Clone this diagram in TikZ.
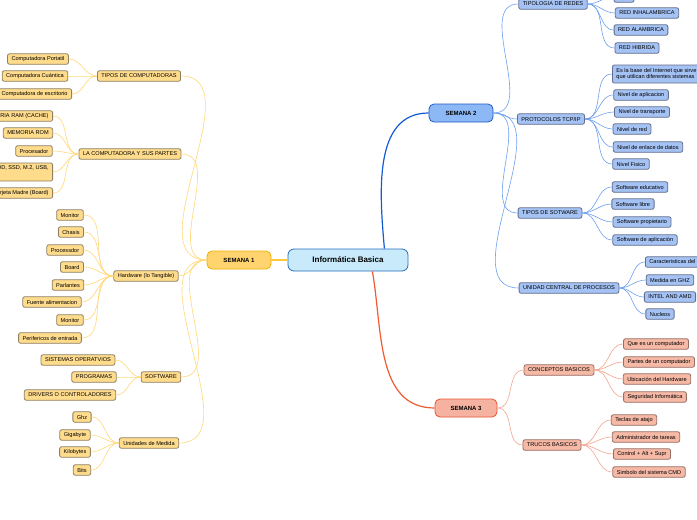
\documentclass[tikz,border=0pt]{standalone}
\usepackage{fontspec}
\setmainfont{Liberation Sans}
\begin{document}
\begin{tikzpicture}[x=1pt,y=-1pt,
 base/.style={draw,rounded corners=2pt,font=\fontsize{5.6}{6.6}\selectfont,inner xsep=4pt,inner ysep=0pt,minimum height=10.5pt,line width=0.8pt},
 ly/.style={base,fill={rgb,255:red,255;green,219;blue,140},draw={rgb,255:red,140;green,128;blue,100}},
 lb/.style={base,fill={rgb,255:red,164;green,194;blue,244},draw={rgb,255:red,100;green,110;blue,140}},
 ls/.style={base,fill={rgb,255:red,246;green,185;blue,165},draw={rgb,255:red,150;green,110;blue,100}},
 cy/.style={draw={rgb,255:red,255;green,217;blue,120},line width=0.6pt},
 cb/.style={draw={rgb,255:red,110;green,160;blue,240},line width=0.6pt},
 cs/.style={draw={rgb,255:red,244;green,165;blue,142},line width=0.6pt},
 lk/.style={out=180,in=0},
 rk/.style={out=0,in=180}]
\clip (0,0) rectangle (697,520);
\fill[white] (0,0) rectangle (697,520);
% root
\node[base,font=\fontsize{8}{9}\selectfont\bfseries,minimum width=120,minimum height=22,rounded corners=6pt,fill={rgb,255:red,200;green,234;blue,250},draw={rgb,255:red,40;green,110;blue,190}] (root) at (348,260) {Informática Basica};
\node[base,font=\fontsize{6}{7}\selectfont\bfseries,minimum width=64,minimum height=18,rounded corners=5pt,fill={rgb,255:red,255;green,212;blue,110},draw={rgb,255:red,240;green,176;blue,0}] (s1) at (239,260) {SEMANA 1};
\node[base,font=\fontsize{6}{7}\selectfont\bfseries,minimum width=64,minimum height=18,rounded corners=5pt,fill={rgb,255:red,140;green,185;blue,245},draw={rgb,255:red,30;green,90;blue,200}] (s2) at (461,113) {SEMANA 2};
\node[base,font=\fontsize{6}{7}\selectfont\bfseries,minimum width=62,minimum height=18,rounded corners=5pt,fill={rgb,255:red,246;green,178;blue,160},draw={rgb,255:red,230;green,85;blue,55}] (s3) at (466,408) {SEMANA 3};
\draw[draw={rgb,255:red,255;green,200;blue,60},line width=1.2pt] (root.west) -- (s1.east);
\draw[draw={rgb,255:red,20;green,90;blue,210},line width=1.2pt] (root.north east) ++(-24,0) to[out=95,in=180] (s2.west);
\draw[draw={rgb,255:red,240;green,90;blue,50},line width=1.2pt] (root.south east) ++(-36,0) to[out=-80,in=180] (s3.west);
% semana 1 children
\node[ly] (tc) at (139,76) {TIPOS DE COMPUTADORAS};
\node[ly] (lc) at (130,154) {LA COMPUTADORA Y SUS PARTES};
\node[ly] (hw) at (146,276) {Hardware (lo Tangible)};
\node[ly] (sw) at (161,377) {SOFTWARE};
\node[ly] (um) at (149,443) {Unidades de Medida};
\foreach \c in {tc,lc,hw,sw,um} \draw[cy] (s1.west) to[lk] (\c.east);
\node[ly] (t1) at (38,59) {Computadora Portatil};
\node[ly] (t2) at (35,76) {Computadora Cuántica};
\node[ly,anchor=east] (t3) at (72,94) {Computadora de escritorio};
\foreach \c in {t1,t2,t3} \draw[cy] (tc.west) to[lk] (\c.east);
\node[ly,anchor=east] (p1) at (53,116) {MEMORIA RAM (CACHE)};
\node[ly] (p2) at (28,133) {MEMORIA ROM};
\node[ly] (p3) at (34,151) {Procesador};
\node[ly,anchor=east,minimum height=18,align=left] (p4) at (53,172) {Discos: HDD, SSD, M.2, USB,\\[2pt]};
\node[ly,anchor=east] (p5) at (53,193) {Tarjeta Madre (Board)};
\foreach \c in {p1,p2,p3,p4,p5} \draw[cy] (lc.west) to[lk] (\c.east);
\node[ly] (h1) at (70,215) {Monitor};
\node[ly] (h2) at (71,232) {Chasis};
\node[ly] (h3) at (65,250) {Processdor};
\node[ly] (h4) at (72,267) {Board};
\node[ly] (h5) at (68,285) {Parlantes};
\node[ly] (h6) at (52,302) {Fuente alimentacion};
\node[ly] (h7) at (70,320) {Monitor};
\node[ly] (h8) at (50,338) {Perifericos de entrada};
\foreach \c in {h1,h2,h3,h4,h5,h6,h7,h8} \draw[cy] (hw.west) to[lk] (\c.east);
\node[ly] (w1) at (78,360) {SISTEMAS OPERATVIOS};
\node[ly] (w2) at (94,377) {PROGRAMAS};
\node[ly] (w3) at (70,395) {DRIVERS O CONTROLADORES};
\foreach \c in {w1,w2,w3} \draw[cy] (sw.west) to[lk] (\c.east);
\node[ly] (u1) at (82,417) {Ghz};
\node[ly] (u2) at (75,435) {Gigabyte};
\node[ly] (u3) at (75,452) {Kilobytes};
\node[ly] (u4) at (82,470) {Bits};
\foreach \c in {u1,u2,u3,u4} \draw[cy] (um.west) to[lk] (\c.east);
% semana 2
\node[lb] (tr) at (553,4) {TIPOLOGIA DE REDES};
\node[lb] (tp) at (551,119) {PROTOCOLOS TCP/IP};
\node[lb] (ts) at (550,213) {TIPOS DE SOTWARE};
\node[lb] (uc) at (569,288) {UNIDAD CENTRAL DE PROCESOS};
\foreach \c in {tr,tp,ts,uc} \draw[cb] (s2.east) to[rk] (\c.west);
\node[lb,minimum width=20] (r0) at (624,-3) {};
\node[lb] (r1) at (647,13) {RED INHALAMBRICA};
\node[lb] (r2) at (641,30) {RED ALAMBRICA};
\node[lb] (r3) at (637,48) {RED HIBRIDA};
\foreach \c in {r0,r1,r2,r3} \draw[cb] (tr.east) to[rk] (\c.west);
\node[lb,anchor=west,align=left,minimum height=18] (q0) at (612,74) {Es la base del Internet que sirve para conectar\\que utilican diferentes sistemas};
\node[lb] (q1) at (641,95) {Nivel de aplicacion};
\node[lb] (q2) at (642,112) {Nivel de transporte};
\node[lb] (q3) at (632,129) {Nivel de red};
\node[lb] (q4) at (648,147) {Nivel de enlace de datos};
\node[lb] (q5) at (631,164) {Nivel Fisico};
\foreach \c in {q0,q1,q2,q3,q4,q5} \draw[cb] (tp.east) to[rk] (\c.west);
\node[lb] (o1) at (640,187) {Software educativo};
\node[lb] (o2) at (633,204) {Software libre};
\node[lb] (o3) at (642,222) {Software propietario};
\node[lb] (o4) at (645,240) {Software de aplicación};
\foreach \c in {o1,o2,o3,o4} \draw[cb] (ts.east) to[rk] (\c.west);
\node[lb,anchor=west] (c1) at (645,262) {Caracteristicas del procesador};
\node[lb] (c2) at (670,280) {Medida en GHZ};
\node[lb] (c3) at (670,297) {INTEL AND AMD};
\node[lb] (c4) at (660,314) {Nucleos};
\foreach \c in {c1,c2,c3,c4} \draw[cb] (uc.east) to[rk] (\c.west);
% semana 3
\node[ls] (cb) at (559,370) {CONCEPTOS BASICOS};
\node[ls] (tb) at (552,445) {TRUCOS BASICOS};
\foreach \c in {cb,tb} \draw[cs] (s3.east) to[rk] (\c.west);
\node[ls] (k1) at (656,344) {Que es un computador};
\node[ls] (k2) at (659,362) {Partes de un computador};
\node[ls] (k3) at (657,379) {Ubicación del Hardware};
\node[ls] (k4) at (655,397) {Seguridad Informática};
\foreach \c in {k1,k2,k3,k4} \draw[cs] (cb.east) to[rk] (\c.west);
\node[ls] (m1) at (634,420) {Teclas de atajo};
\node[ls] (m2) at (646,437) {Administrador de tareas};
\node[ls] (m3) at (642,454) {Control + Alt + Supr};
\node[ls] (m4) at (649,472) {Simbolo del sistema CMD};
\foreach \c in {m1,m2,m3,m4} \draw[cs] (tb.east) to[rk] (\c.west);
\end{tikzpicture}
\end{document}
